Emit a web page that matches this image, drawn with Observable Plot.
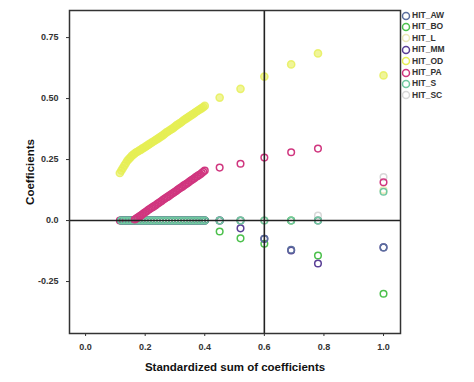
<!DOCTYPE html>
<html><head><meta charset="utf-8">
<script src="https://cdn.jsdelivr.net/npm/d3@7"></script>
<script src="https://cdn.jsdelivr.net/npm/@observablehq/plot@0.6"></script>
<style>
body{margin:0;background:#fff;font-family:"Liberation Sans",Arial,sans-serif;}
#wrap{position:relative;width:474px;height:382px;}
#legend{position:absolute;left:401px;top:10px;font-size:8.5px;font-weight:bold;color:#333;line-height:11.4px;}
#legend div{display:flex;align-items:center;height:11.4px;}
#legend svg{margin-right:1px;}
</style>
</head><body><div id="wrap"><div id="legend"></div></div>
<script>
const series = ["HIT_AW","HIT_BO","HIT_L","HIT_MM","HIT_OD","HIT_PA","HIT_S","HIT_SC"];
const colors = ["#5b6f9e","#4cc04c","#ece8b8","#5a3f96","#e6ef55","#d0367f","#70c8a0","#d8d8d8"];

// x positions of the dense path section (zero-valued series)
const xDense = [0.12,0.13,0.14,0.15,0.16,0.17,0.18,0.19,0.20,0.21,0.22,0.23,0.24,0.25,0.26,0.27,0.28,0.29,0.30,0.31,0.32,0.33,0.34,0.35,0.36,0.37,0.38,0.39,0.40];
// finer x positions for the two rising series
const xFine = [0.115,0.12,0.125,0.13,0.135,0.14,0.145,0.15,0.155,0.16,0.165,0.17,0.175,0.18,0.185,0.19,0.195,0.20,0.205,0.21,0.215,0.22,0.225,0.23,0.235,0.24,0.245,0.25,0.255,0.26,0.265,0.27,0.275,0.28,0.285,0.29,0.295,0.30,0.305,0.31,0.315,0.32,0.325,0.33,0.335,0.34,0.345,0.35,0.355,0.36,0.365,0.37,0.375,0.38,0.385,0.39,0.395,0.40];
const xSparse = [0.45,0.52,0.60,0.69,0.78,1.0];

const dense = {
  HIT_SC: [0,0,0,0,0,0,0,0,0,0,0,0,0,0,0,0,0,0,0,0,0,0,0,0,0,0,0,0,0],
  HIT_L:  [0,0,0,0,0,0,0,0,0,0,0,0,0,0,0,0,0,0,0,0,0,0,0,0,0,0,0,0,0],
  HIT_BO: [0,0,0,0,0,0,0,0,0,0,0,0,0,0,0,0,0,0,0,0,0,0,0,0,0,0,0,0,0],
  HIT_MM: [0,0,0,0,0,0,0,0,0,0,0,0,0,0,0,0,0,0,0,0,0,0,0,0,0,0,0,0,0],
  HIT_AW: [0,0,0,0,0,0,0,0,0,0,0,0,0,0,0,0,0,0,0,0,0,0,0,0,0,0,0,0,0],
  HIT_S:  [0,0,0,0,0,0,0,0,0,0,0,0,0,0,0,0,0,0,0,0,0,0,0,0,0,0,0,0,0]
};
const fine = {
  HIT_OD: [0.195,0.205,0.215,0.225,0.235,0.245,0.252,0.258,0.265,0.27,0.275,0.28,0.283,0.287,0.29,0.295,0.298,0.302,0.306,0.31,0.314,0.318,0.322,0.326,0.33,0.334,0.338,0.342,0.346,0.35,0.355,0.36,0.364,0.368,0.372,0.376,0.38,0.385,0.39,0.394,0.398,0.402,0.407,0.412,0.416,0.42,0.424,0.428,0.432,0.436,0.44,0.445,0.449,0.453,0.457,0.461,0.465,0.47],
  HIT_PA: [0,0,0,0,0,0,0,0,0,0,0.004,0.008,0.012,0.016,0.02,0.025,0.03,0.034,0.038,0.043,0.047,0.051,0.055,0.059,0.063,0.068,0.072,0.076,0.08,0.085,0.089,0.093,0.097,0.101,0.106,0.11,0.114,0.118,0.122,0.127,0.131,0.135,0.139,0.144,0.148,0.152,0.156,0.161,0.165,0.169,0.173,0.178,0.182,0.186,0.19,0.195,0.2,0.205]
};
const sparse = {
  HIT_SC: [0,0,0,0,0.02,0.178],
  HIT_L:  [0,0,0,0,0,0.125],
  HIT_S:  [0,0,0,0,0,0.118],
  HIT_BO: [-0.045,-0.073,-0.095,0,-0.143,-0.30],
  HIT_AW: [0,0,-0.075,-0.12,0,-0.11],
  HIT_MM: [0,-0.032,-0.075,-0.123,-0.176,-0.11],
  HIT_OD: [0.504,0.54,0.59,0.64,0.685,0.595],
  HIT_PA: [0.217,0.233,0.258,0.28,0.295,0.157]
};
const drawOrder = ["HIT_SC","HIT_L","HIT_BO","HIT_MM","HIT_AW","HIT_S","HIT_OD","HIT_PA"];

const yTicks = [-0.25,0,0.25,0.5,0.75];
const yTickLabels = ["-0.25","0.0","0.25","0.50","0.75"];
const xTicks = [0,0.2,0.4,0.6,0.8,1.0];
const xTickLabels = ["0.0","0.2","0.4","0.6","0.8","1.0"];

const under = [], pts = [];
for (const s of drawOrder) {
  if (dense[s]) dense[s].forEach((v,i)=>pts.push({s, x:xDense[i], y:v}));
  if (fine[s]) fine[s].forEach((v,i)=>{
    const p = {s, x:xFine[i], y:v};
    // flat (zero) stretch of a rising series sits beneath the zero band
    if (s==="HIT_PA" && v===0) under.push(p); else pts.push(p);
  });
  sparse[s].forEach((v,i)=>pts.push({s, x:xSparse[i], y:v}));
}

const chart = Plot.plot({
  width:474, height:382,
  marginLeft:69, marginRight:74, marginTop:10, marginBottom:49,
  style:{fontFamily:"Liberation Sans, Arial, sans-serif", fontSize:"9px", color:"#333", background:"#fff"},
  x:{domain:[-0.054,1.057]},
  y:{domain:[-0.463,0.861]},
  color:{domain:series, range:colors},
  marks:[
    Plot.dot(under, {x:"x", y:"y", stroke:"s", r:3.3, strokeWidth:1.5, fill:"none"}),
    Plot.dot(pts.filter(d=>d.s!=="HIT_OD"), {x:"x", y:"y", stroke:"s", r:3.3, strokeWidth:1.5, fill:"none"}),
    Plot.dot(pts.filter(d=>d.s==="HIT_OD"), {x:"x", y:"y", stroke:"s", fill:"s", fillOpacity:0.6, strokeOpacity:0.8, r:3.6, strokeWidth:1.5}),
    Plot.ruleY([0], {stroke:"#222", strokeWidth:1.6}),
    Plot.ruleX([0.6], {stroke:"#222", strokeWidth:1.6}),
    Plot.frame({stroke:"#333", strokeWidth:1.5}),
    Plot.axisY({ticks:yTicks, tickFormat:(d)=>yTickLabels[yTicks.indexOf(d)], tickSize:3, tickPadding:8, fontWeight:"bold", fill:"#333",
      label:"Coefficients", labelAnchor:"center", labelArrow:"none", labelOffset:44}),
    Plot.axisX({ticks:xTicks, tickFormat:(d)=>xTickLabels[xTicks.indexOf(d)], tickSize:3, tickPadding:7, fontWeight:"bold", fill:"#333",
      label:"Standardized sum of coefficients", labelAnchor:"center", labelArrow:"none", labelOffset:37})
  ]
});
d3.select(chart).selectAll("g[aria-label='y-axis label'] text, g[aria-label='x-axis label'] text")
  .style("font-size","11.5px").style("font-weight","bold").style("fill","#111");
document.getElementById("wrap").prepend(chart);
chart.style.position="absolute"; chart.style.left="0"; chart.style.top="0";

const leg = d3.select("#legend");
series.forEach((s,i)=>{
  const row = leg.append("div");
  const sv = row.append("svg").attr("width",10).attr("height",10);
  sv.append("circle").attr("cx",5).attr("cy",5).attr("r",3.5).attr("fill","none").attr("stroke",colors[i]).attr("stroke-width",1.5);
  row.append("span").text(s);
});
</script></body></html>
